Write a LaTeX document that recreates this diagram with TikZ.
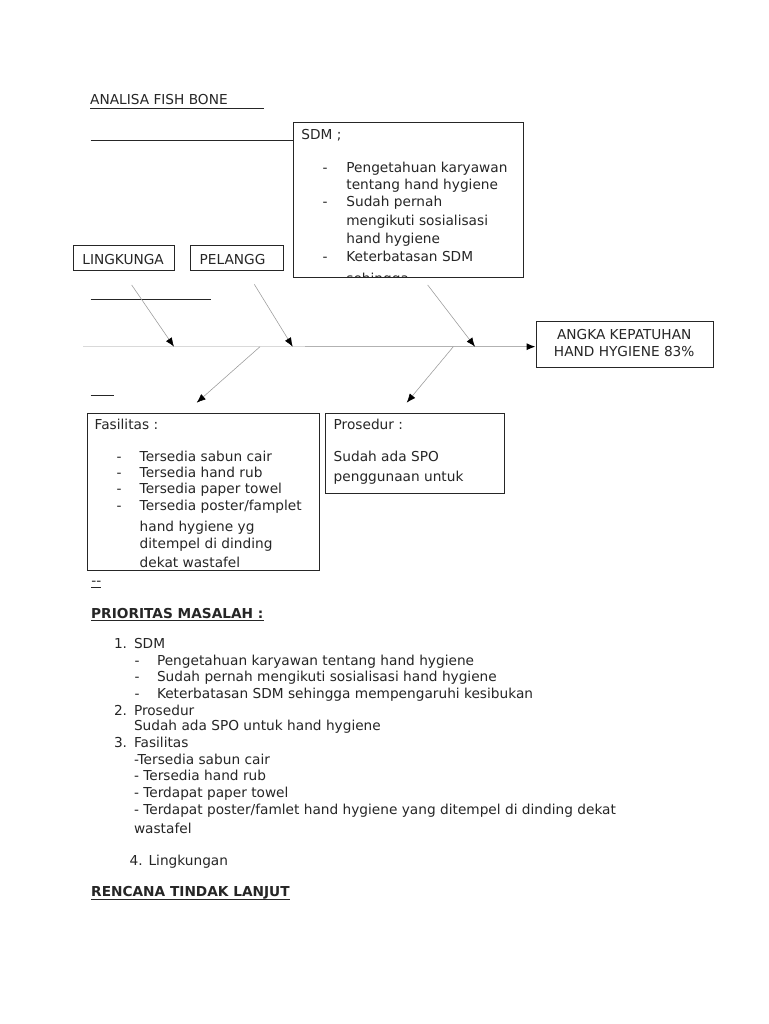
\documentclass[tikz,border=0pt]{standalone}
\usepackage{fontspec}
\setmainfont{DejaVu Sans}
\usetikzlibrary{arrows.meta,calc}
\newcommand\myfs{\fontsize{13.7}{16.6}\selectfont}
\begin{document}
\begin{tikzpicture}[x=1pt,y=-1pt,
  txt/.style={anchor=base west,inner sep=0pt,font=\myfs,text=black!85},
  ctxt/.style={anchor=base,inner sep=0pt,font=\myfs,text=black!85},
  btxt/.style={anchor=base west,inner sep=0pt,font=\myfs\bfseries,text=black!85},
  box/.style={draw=black!85,line width=0.8pt,anchor=north west,inner sep=0pt},
  rule/.style={draw=black!85,line width=0.8pt},
  bone/.style={draw=gray!80,line width=0.55pt,-{Latex[length=9pt,width=7pt,color=black]}},
  spinelight/.style={draw=gray!30,line width=1.4pt},
  spinedark/.style={draw=gray!60,line width=1.4pt,-{Latex[length=9pt,width=7pt,color=black]}}]
\useasboundingbox[fill=white] (0,0) rectangle (768,1024);

% header
\node[txt] (hdr) at (90,105) {ANALISA FISH BONE};
\draw[rule] ($(hdr.base west)+(0,3.3)$) -- ++(174,0);

% SDM box
\node[box,minimum width=229.4pt,minimum height=155.3pt] (sdm) at (293.3,121.7) {};
\coordinate (l1) at (90.7,140);
\draw[rule] (l1) -- (l1 -| sdm.west);
\begin{scope}
\clip ($(sdm.north west)+(1,1)$) rectangle ($(sdm.south east)+(-1,-1.2)$);
\node[txt] (sdm0) at (301.2,140) {SDM ;};
\node[txt] (sdmd1) at (322.5,173) {-};
\node[txt] (sdm1) at (346.2,173) {Pengetahuan karyawan};
\node[txt] (sdm2) at (346.2,190) {tentang hand hygiene};
\node[txt] (sdmd2) at (322.5,207) {-};
\node[txt] (sdm3) at (346.2,207) {Sudah pernah};
\node[txt] (sdm4) at (346.2,225.5) {mengikuti sosialisasi};
\node[txt] (sdm5) at (346.2,243.5) {hand hygiene};
\node[txt] (sdmd3) at (322.5,261.5) {-};
\node[txt] (sdm6) at (346.2,261.5) {Keterbatasan SDM};
\node[txt] (sdm7) at (346.2,283) {sehingga};
\end{scope}

% small boxes
\node[box,minimum width=100.6pt,minimum height=25.3pt] (ling) at (73.4,245) {};
\node[txt] (lingt) at (82.2,264.3) {LINGKUNGA};
\node[box,minimum width=93pt,minimum height=25.3pt] (pel) at (190,245) {};
\node[txt] (pelt) at (199.5,264.3) {PELANGG};

% stray rules
\coordinate (l2a) at (90.7,299);
\coordinate (l2b) at (210.7,299);
\draw[rule] (l2a) -- (l2b);
\coordinate (l3a) at (90.7,395);
\coordinate (l3b) at (114.3,395);
\draw[rule] (l3a) -- (l3b);

% effect box
\node[box,minimum width=177pt,minimum height=46.3pt] (angka) at (535.7,321) {};
\node[ctxt] (angka1) at (624.2,339.3) {ANGKA KEPATUHAN};
\node[ctxt] (angka2) at (624.2,356.7) {HAND HYGIENE 83\%};

% spine
\coordinate (sp0) at (83.3,346.7);
\coordinate (spm) at (305,346.7);
\draw[spinelight] (sp0) -- (spm);
\draw[spinedark] (spm) -- (spm -| angka.west);

% bones
\coordinate (b1s) at (131.7,285);   \coordinate (b1e) at (174,346.7);
\coordinate (b2s) at (254.3,284.3); \coordinate (b2e) at (292.7,346.7);
\coordinate (b3s) at (427.7,285);   \coordinate (b3e) at (475,346.7);
\coordinate (b4s) at (260,346.7);   \coordinate (b4e) at (196.7,402.7);
\coordinate (b5s) at (453.3,346.7); \coordinate (b5e) at (406.7,402.7);
\draw[bone] (b1s) -- (b1e);
\draw[bone] (b2s) -- (b2e);
\draw[bone] (b3s) -- (b3e);
\draw[bone] (b4s) -- (b4e);
\draw[bone] (b5s) -- (b5e);

% Fasilitas box
\node[box,minimum width=232.6pt,minimum height=156.7pt] (fas) at (86.7,413.3) {};
\begin{scope}
\clip ($(fas.north west)+(1,1)$) rectangle ($(fas.south east)+(-1,-3.5)$);
\node[txt] (fas0) at (94.5,429) {Fasilitas :};
\node[txt] (fasd1) at (116.5,461.7) {-};
\node[txt] (fas1) at (139.5,461.7) {Tersedia sabun cair};
\node[txt] (fasd2) at (116.5,477.7) {-};
\node[txt] (fas2) at (139.5,477.7) {Tersedia hand rub};
\node[txt] (fasd3) at (116.5,493.7) {-};
\node[txt] (fas3) at (139.5,493.7) {Tersedia paper towel};
\node[txt] (fasd4) at (116.5,510) {-};
\node[txt] (fas4) at (139.5,510) {Tersedia poster/famplet};
\node[txt] (fas5) at (139.5,531.7) {hand hygiene yg};
\node[txt] (fas6) at (139.5,548.3) {ditempel di dinding};
\node[txt] (fas7) at (139.5,567) {dekat wastafel};
\end{scope}

% Prosedur box
\node[box,minimum width=179.3pt,minimum height=79.4pt] (pro) at (325,413.3) {};
\node[txt] (pro0) at (333.5,429) {Prosedur :};
\node[txt] (pro1) at (333.5,461.7) {Sudah ada SPO};
\node[txt] (pro2) at (333.5,481) {penggunaan untuk};

% dashes
\node[txt] (dd) at (91.2,585) {-{}-};
\draw[rule] ($(dd.base west)+(0,2)$) -- ($(dd.base east)+(0,2)$);

% Prioritas
\node[btxt] (pm) at (91,618.3) {PRIORITAS MASALAH :};
\draw[rule] ($(pm.base west)+(0,2.4)$) -- ($(pm.base east)+(0,2.4)$);
\node[txt] (n1) at (113.8,648.3) {1.};
\node[txt] (p1) at (133.8,648.3) {SDM};
\node[txt] (pd1) at (134.5,665) {-};
\node[txt] (p1a) at (156.8,665) {Pengetahuan karyawan tentang hand hygiene};
\node[txt] (pd2) at (134.5,681.7) {-};
\node[txt] (p1b) at (156.8,681.7) {Sudah pernah mengikuti sosialisasi hand hygiene};
\node[txt] (pd3) at (134.5,698.3) {-};
\node[txt] (p1c) at (156.8,698.3) {Keterbatasan SDM sehingga mempengaruhi kesibukan};
\node[txt] (n2) at (113.8,715) {2.};
\node[txt] (p2) at (133.8,715) {Prosedur};
\node[txt] (p2a) at (133.8,730.7) {Sudah ada SPO untuk hand hygiene};
\node[txt] (n3) at (113.8,747.3) {3.};
\node[txt] (p3) at (133.8,747.3) {Fasilitas};
\node[txt] (p3a) at (133.8,764) {-Tersedia sabun cair};
\node[txt] (p3b) at (133.8,780.7) {- Tersedia hand rub};
\node[txt] (p3c) at (133.8,797.3) {- Terdapat paper towel};
\node[txt] (p3d) at (133.8,814) {- Terdapat poster/famlet hand hygiene yang ditempel di dinding dekat};
\node[txt] (p3e) at (133.8,833.3) {wastafel};
\node[txt] (p4) at (129.5,865) {4. Lingkungan};

% Rencana
\node[btxt] (rtl) at (91,896.7) {RENCANA TINDAK LANJUT};
\draw[rule] ($(rtl.base west)+(0,2.4)$) -- ($(rtl.base east)+(0,2.4)$);
\end{tikzpicture}
\end{document}
